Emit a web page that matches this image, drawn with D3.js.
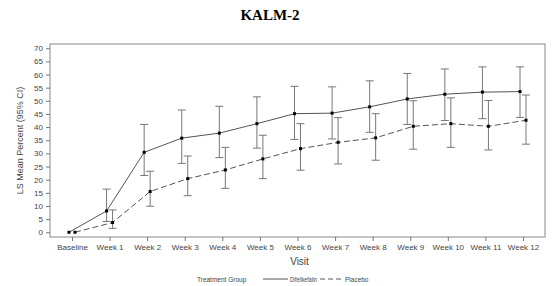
<!DOCTYPE html>
<html>
<head>
<meta charset="utf-8">
<script src="https://cdn.jsdelivr.net/npm/d3@7"></script>
<style>
body { margin: 0; background: #fff; }
text { font-family: Arial, "Liberation Sans", sans-serif; }
</style>
</head>
<body>
<svg id="chart" width="558" height="286"></svg>
<script>
var visits = ["Baseline", "Week 1", "Week 2", "Week 3", "Week 4", "Week 5", "Week 6",
	"Week 7", "Week 8", "Week 9", "Week 10", "Week 11", "Week 12"];

var difMean  = [0, 8.1, 30.4, 35.8, 37.7, 41.3, 45.1, 45.3, 47.7, 50.7, 52.5, 53.3, 53.5];
var difLower = [0, 4.1, 21.6, 26.2, 28.4, 32.0, 35.3, 35.5, 38.0, 41.0, 42.5, 43.2, 43.7];
var difUpper = [0, 16.4, 41.0, 46.5, 47.9, 51.5, 55.5, 55.3, 57.6, 60.4, 62.1, 62.9, 62.9];

var plaMean  = [0, 3.7, 15.5, 20.4, 23.7, 27.9, 31.8, 34.2, 35.9, 40.3, 41.3, 40.3, 42.6];
var plaLower = [0, 1.5, 9.9, 13.9, 16.7, 20.4, 23.6, 26.0, 27.4, 31.6, 32.3, 31.3, 33.5];
var plaUpper = [0, 8.5, 23.2, 29.0, 32.3, 36.9, 41.3, 43.6, 45.1, 50.0, 51.1, 50.1, 52.2];

var yTicks = [0, 5, 10, 15, 20, 25, 30, 35, 40, 45, 50, 55, 60, 65, 70];

var seriesNames = ["Difelikefalin", "Placebo"];

var svg = d3.select("#chart");

var plotLeft = 50, plotRight = 545, plotTop = 44, plotBottom = 237;

var xScale = d3.scaleLinear().domain([-0.585, visits.length - 1 + 0.585]).range([plotLeft, plotRight]);
var yScale = d3.scaleLinear().domain([-1.8, 71.6]).range([plotBottom, plotTop]);

// title
svg.append("text")
	.attr("x", 270)
	.attr("y", 20)
	.attr("text-anchor", "middle")
	.style("font-family", "'Liberation Serif', 'Times New Roman', serif")
	.style("font-weight", "bold")
	.style("font-size", "15px")
	.text("KALM-2");

// frame
svg.append("rect")
	.attr("x", plotLeft)
	.attr("y", plotTop)
	.attr("width", plotRight - plotLeft)
	.attr("height", plotBottom - plotTop)
	.attr("fill", "none")
	.attr("stroke", "#888")
	.attr("stroke-width", 1);

var yAxis = svg.append("g")
	.attr("transform", "translate(" + plotLeft + ",0)")
	.call(d3.axisLeft(yScale).tickValues(yTicks).tickSize(4).tickPadding(3));

var xAxis = svg.append("g")
	.attr("transform", "translate(0," + plotBottom + ")")
	.call(d3.axisBottom(xScale).tickValues(d3.range(visits.length))
		.tickFormat(function(i){ return visits[i]; })
		.tickSize(4).tickPadding(3));

[yAxis, xAxis].forEach(function(ax)
{
	ax.select(".domain").remove();
	ax.selectAll("line").attr("stroke", "#777");
	ax.selectAll("text")
		.style("font-size", "8px")
		.attr("fill", "#444");
});

// axis titles
svg.append("text")
	.attr("transform", "translate(23," + ((plotTop + plotBottom) / 2) + ") rotate(-90)")
	.attr("text-anchor", "middle")
	.style("font-size", "9px")
	.attr("fill", "#444")
	.text("LS Mean Percent (95% CI)");

svg.append("text")
	.attr("x", (plotLeft + plotRight) / 2 + 2)
	.attr("y", 265)
	.attr("text-anchor", "middle")
	.style("font-size", "10px")
	.attr("fill", "#444")
	.text("Visit");

function drawSeries(mean, lower, upper, offset, dash)
{
	var g = svg.append("g");
	var idx = d3.range(mean.length);
	var px = function(i){ return xScale(i) + offset; };

	// error bars (skip baseline, no interval)
	var bars = g.selectAll("g.err")
		.data(idx.filter(function(i){ return upper[i] > lower[i]; }))
		.enter()
		.append("g")
		.attr("class", "err")
		.attr("stroke", "#777")
		.attr("stroke-width", 1);
	bars.append("line")
		.attr("x1", px).attr("x2", px)
		.attr("y1", function(i){ return yScale(lower[i]); })
		.attr("y2", function(i){ return yScale(upper[i]); });
	bars.append("line")
		.attr("x1", function(i){ return px(i) - 4; })
		.attr("x2", function(i){ return px(i) + 4; })
		.attr("y1", function(i){ return yScale(upper[i]); })
		.attr("y2", function(i){ return yScale(upper[i]); });
	bars.append("line")
		.attr("x1", function(i){ return px(i) - 4; })
		.attr("x2", function(i){ return px(i) + 4; })
		.attr("y1", function(i){ return yScale(lower[i]); })
		.attr("y2", function(i){ return yScale(lower[i]); });

	var line = d3.line()
		.x(px)
		.y(function(i){ return yScale(mean[i]); });

	g.append("path")
		.datum(idx)
		.attr("d", line)
		.attr("fill", "none")
		.attr("stroke", "#555")
		.attr("stroke-width", 1)
		.attr("stroke-dasharray", dash);

	g.selectAll("rect.pt")
		.data(idx)
		.enter()
		.append("rect")
		.attr("class", "pt")
		.attr("x", function(i){ return px(i) - 1.5; })
		.attr("y", function(i){ return yScale(mean[i]) - 1.5; })
		.attr("width", 3)
		.attr("height", 3)
		.attr("fill", "#000");
}

drawSeries(difMean, difLower, difUpper, -3, null);
drawSeries(plaMean, plaLower, plaUpper, 3, "6,3");

// legend
var legend = svg.append("g").attr("transform", "translate(0,279)");
legend.append("text")
	.attr("x", 197).attr("y", 2.5)
	.style("font-size", "6.5px")
	.attr("fill", "#444")
	.text("Treatment Group");
legend.append("line")
	.attr("x1", 263).attr("x2", 288)
	.attr("stroke", "#555");
legend.append("text")
	.attr("x", 290).attr("y", 2.5)
	.style("font-size", "6.5px")
	.attr("fill", "#444")
	.attr("textLength", 27)
	.attr("lengthAdjust", "spacingAndGlyphs")
	.text(seriesNames[0]);
legend.append("line")
	.attr("x1", 320).attr("x2", 341)
	.attr("stroke", "#555")
	.attr("stroke-dasharray", "5,3");
legend.append("text")
	.attr("x", 345).attr("y", 2.5)
	.style("font-size", "6.5px")
	.attr("fill", "#444")
	.text(seriesNames[1]);
</script>
</body>
</html>
